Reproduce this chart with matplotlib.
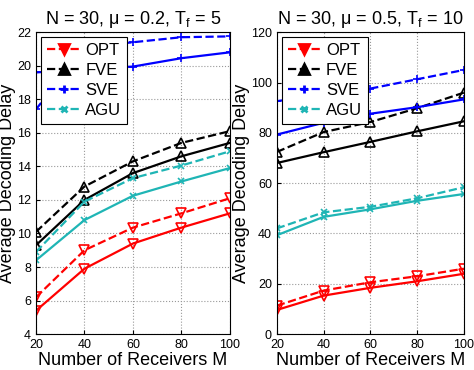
import numpy as np
import matplotlib.pyplot as plt
from matplotlib.lines import Line2D

plt.rcParams['font.family'] = ['Liberation Sans', 'DejaVu Sans']

M = [20, 40, 60, 80, 100]

# left panel: N = 30, mu = 0.2, Tf = 5
opt_a = [6.2, 9.0, 10.35, 11.2, 12.1]
opt_b = [5.4, 7.9, 9.4, 10.35, 11.2]
fve_a = [10.1, 12.8, 14.3, 15.4, 16.1]
fve_b = [9.3, 12.0, 13.6, 14.6, 15.4]
sve_a = [17.4, 21.1, 21.4, 21.7, 21.75]
sve_b = [19.6, 19.8, 19.95, 20.45, 20.8]
agu_a = [8.9, 11.9, 13.3, 14.05, 14.9]
agu_b = [8.4, 10.8, 12.25, 13.1, 13.9]

# right panel: N = 30, mu = 0.5, Tf = 10
opt2_a = [11.3, 17.3, 20.6, 23.0, 26.0]
opt2_b = [9.6, 15.3, 18.4, 21.0, 24.0]
fve2_a = [72.4, 80.3, 84.3, 89.8, 96.0]
fve2_b = [68.0, 72.3, 76.4, 80.6, 84.6]
sve2_a = [92.6, 95.0, 97.6, 101.3, 105.0]
sve2_b = [79.3, 84.0, 87.6, 90.2, 93.3]
agu2_a = [42.0, 48.4, 50.6, 54.0, 58.4]
agu2_b = [39.3, 46.6, 49.6, 53.0, 55.7]

names = ['OPT', 'FVE', 'SVE', 'AGU']
colors = ['#ff0000', '#000000', '#0000ff', '#1fb5b5']
markers = ['v', '^', '+', 'x']
msizes = [7, 7, 6, 5]

fig = plt.figure(figsize=(4.74, 3.70), dpi=100)
ax1 = fig.add_axes([0.076, 0.097, 0.409, 0.816])
ax2 = fig.add_axes([0.584, 0.097, 0.395, 0.816])


def panel(ax, series, ylim, yticks, title):
    for (a, b), c, mk, ms in zip(series, colors, markers, msizes):
        ax.plot(M, b, '-', color=c, marker=mk, mfc='none', ms=ms, lw=1.6, mew=1.2)
        ax.plot(M, a, '--', color=c, marker=mk, mfc='none', ms=ms, lw=1.6, mew=1.2)
    ax.set_xlim(20, 100)
    ax.set_ylim(*ylim)
    ax.set_xticks(M)
    ax.set_yticks(yticks)
    ax.grid(True, linestyle=':', color='#999999', lw=0.8)
    ax.tick_params(direction='in', labelsize=9, length=3)
    ax.set_xlabel('Number of Receivers M', fontsize=13, labelpad=1)
    ax.set_ylabel('Average Decoding Delay', fontsize=13, labelpad=1)
    ax.set_title(title, fontsize=13, pad=6)
    handles = [Line2D([], [], ls='--', color=c, marker=mk, mfc=c, ms=ms, lw=1.6, mew=2)
               for c, mk, ms in zip(colors, markers, msizes)]
    leg = ax.legend(handles, names, loc='upper left', fontsize=12, fancybox=False,
                    handlelength=2.0, handletextpad=0.3, borderpad=0.35, labelspacing=0.3,
                    borderaxespad=0.3)
    leg.get_frame().set_edgecolor('black')
    leg.get_frame().set_linewidth(0.8)
    leg.get_frame().set_alpha(1)


panel(ax1, [(opt_a, opt_b), (fve_a, fve_b), (sve_a, sve_b), (agu_a, agu_b)],
      (4, 22), np.arange(4, 23, 2), 'N = 30, μ = 0.2, T$_\\mathregular{f}$ = 5')
panel(ax2, [(opt2_a, opt2_b), (fve2_a, fve2_b), (sve2_a, sve2_b), (agu2_a, agu2_b)],
      (0, 120), np.arange(0, 121, 20), 'N = 30, μ = 0.5, T$_\\mathregular{f}$ = 10')

fig.savefig('out.png', dpi=100)
